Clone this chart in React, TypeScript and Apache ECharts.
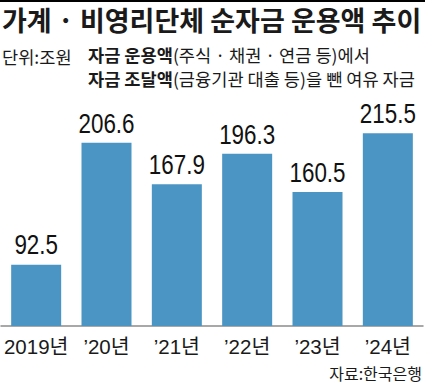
import React, { useEffect, useRef } from "react";
import * as echarts from "echarts";

const categories = ["2019년", "’20년", "’21년", "’22년", "’23년", "’24년"];
const values = [92.5, 206.6, 167.9, 196.3, 160.5, 215.5];
const titleText = "가계 · 비영리단체 순자금 운용액 추이";
const unitText = "단위:조원";
const note1Bold = "자금 운용액";
const note1Rest = "(주식 · 채권 · 연금 등)에서";
const note2Bold = "자금 조달액";
const note2Rest = "(금융기관 대출 등)을 뺀 여유 자금";
const sourceText = "자료:한국은행";

const KR = "'Noto Sans CJK KR', sans-serif";
const NUM = "'Liberation Sans', Arial, 'Noto Sans CJK KR', sans-serif";

const noteRich = {
  b: { font: `bold 17.6px ${KR}`, fill: "#1a1a1a", lineHeight: 20 },
  r: { font: `17.6px ${KR}`, fill: "#1a1a1a", lineHeight: 20 },
};

export default function App() {
  const ref = useRef<HTMLDivElement>(null);
  useEffect(() => {
    if (!ref.current) return;
    const chart = echarts.init(ref.current, null, { renderer: "svg" });
    chart.setOption({
      animation: false,
      backgroundColor: "#ffffff",
      grid: { left: 1, right: 2, top: 107.2, bottom: 60, containLabel: false },
      xAxis: {
        type: "category",
        data: categories,
        axisLine: { show: true, lineStyle: { color: "#8c8c8c", width: 1.5 } },
        axisTick: { show: false },
        axisLabel: {
          interval: 0,
          color: "#1a1a1a",
          fontFamily: NUM,
          fontSize: 20.5,
          margin: 10,
        },
      },
      yAxis: {
        type: "value",
        min: 35,
        max: 240,
        show: false,
        splitLine: { show: false },
      },
      graphic: [
        { type: "rect", left: 0, top: 0, shape: { width: 425, height: 2 }, style: { fill: "#000" } },
        {
          type: "text",
          left: 2,
          top: 6,
          style: { text: titleText, font: `bold 27px ${KR}`, fill: "#1a1a1a" },
        },
        {
          type: "text",
          left: 2,
          top: 46,
          style: { text: unitText, font: `17.6px ${KR}`, fill: "#1a1a1a", lineHeight: 20 },
        },
        {
          type: "text",
          left: 88,
          top: 46,
          style: { text: `{b|${note1Bold}}{r|${note1Rest}}`, rich: noteRich },
        },
        {
          type: "text",
          left: 88,
          top: 70,
          style: { text: `{b|${note2Bold}}{r|${note2Rest}}`, rich: noteRich },
        },
        {
          type: "text",
          right: 3,
          top: 365,
          style: { text: sourceText, font: `16px ${KR}`, fill: "#1a1a1a" },
        },
      ],
      series: [
        {
          type: "bar",
          data: values,
          barWidth: 50,
          itemStyle: { color: "#4b95c4" },
        },
        {
          type: "custom",
          data: values.map((v, i) => [i, v]),
          silent: true,
          z: 5,
          renderItem: (params: any, api: any) => {
            const v = api.value(1);
            const p = api.coord([api.value(0), v]);
            return {
              type: "text",
              x: p[0],
              y: p[1] - 6,
              scaleX: 0.83,
              style: {
                text: Number(v).toFixed(1),
                align: "center",
                verticalAlign: "bottom",
                font: `27px ${NUM}`,
                fill: "#111",
              },
            };
          },
        },
      ],
    });
    return () => chart.dispose();
  }, []);
  return <div ref={ref} style={{ width: 425, height: 386, position: "absolute", left: 0, top: 0 }} />;
}
